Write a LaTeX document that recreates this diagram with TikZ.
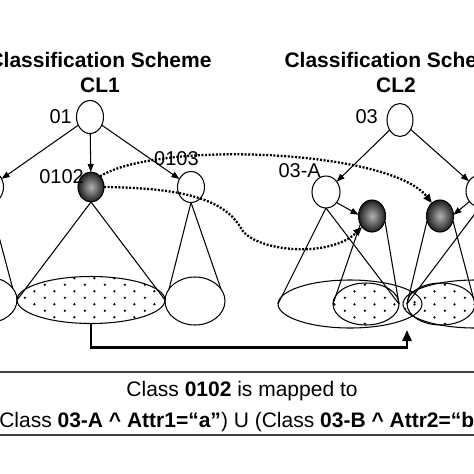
\documentclass[tikz,border=0pt]{standalone}
\usepackage{fontspec}
\setmainfont{Liberation Sans}
\usetikzlibrary{shapes.geometric,arrows.meta,patterns}
\pgfdeclarepatternformonly{mydots}{\pgfpoint{0pt}{0pt}}{\pgfpoint{20pt}{13.4pt}}{\pgfpoint{20pt}{13.4pt}}{%
  \pgfpathcircle{\pgfpoint{5pt}{3.35pt}}{1.3pt}%
  \pgfpathcircle{\pgfpoint{15pt}{10.05pt}}{1.3pt}%
  \pgfusepath{fill}}
\tikzset{
  cls/.style={ellipse, draw, line width=1.05pt, fill=white, inner sep=0pt, outer sep=0pt, minimum width=27pt, minimum height=32pt},
  darkcls/.style={ellipse, draw, line width=1.05pt, inner sep=0pt, outer sep=0pt, minimum width=27pt, minimum height=32pt, shading=radial, inner color=black!30, outer color=black!88},
  baseell/.style={ellipse, draw, line width=1.05pt, inner sep=0pt, outer sep=0pt},
  dotbase/.style={baseell, pattern=mydots},
  coneline/.style={line width=1.05pt},
  arr/.style={line width=1.05pt, -{Triangle[length=8pt,width=6pt]}},
  mapcurve/.style={line width=2.3pt, dash pattern=on 2pt off 1.6pt, -{Triangle[length=9pt,width=7pt]}},
  conn/.style={line width=2.5pt, -{Triangle[length=11pt,width=9pt]}},
  lbl/.style={inner sep=0pt, font=\fontsize{20}{22}\selectfont},
  ttl/.style={inner sep=0pt, font=\bfseries\fontsize{21}{24}\selectfont},
  captext/.style={inner sep=0pt, font=\fontsize{21}{24}\selectfont},
}
\begin{document}
\begin{tikzpicture}[x=1pt,y=-1pt]
\path[use as bounding box] (0,0) rectangle (474,474);
\clip (0,0) rectangle (474,474);
\fill[white] (0,0) rectangle (474,474);

% titles
\node[ttl, anchor=base] (t1a) at (100,67) {Classification Scheme};
\node[ttl, anchor=base] (t1b) at (100,92) {CL1};
\node[ttl, anchor=base] (t2a) at (396,67) {Classification Scheme};
\node[ttl, anchor=base] (t2b) at (396,92) {CL2};

% base ellipses
\node[baseell, minimum width=60pt, minimum height=46pt] (eL) at (-13,300) {};
\node[dotbase, minimum width=148pt, minimum height=47pt] (e0102) at (91,300) {};
\node[baseell, minimum width=60pt, minimum height=48pt] (e0103) at (195,301) {};
\node[baseell, minimum width=144pt, minimum height=48pt] (eA) at (350,304) {};
\node[baseell, minimum width=144pt, minimum height=48pt] (eD) at (475,304) {};
\begin{scope}
  \clip (350,304) ellipse [x radius=72, y radius=24];
  \fill[pattern=mydots] (475,304) ellipse [x radius=72, y radius=24];
\end{scope}
\node[dotbase, minimum width=66pt, minimum height=42pt] (eB) at (366,304) {};
\node[dotbase, minimum width=68pt, minimum height=42pt] (eC) at (441,304) {};

% class nodes
\node[cls, minimum height=33pt] (n01) at (90,117) {};
\node[cls] (nL) at (-10,187) {};
\node[darkcls, minimum width=26pt, minimum height=30pt] (n0102) at (91,187) {};
\node[cls, minimum height=31pt] (n0103) at (191,187) {};
\node[cls, minimum width=26pt, minimum height=33pt] (n03) at (400,120) {};
\node[cls, minimum width=28pt] (nA) at (326,192) {};
\node[cls, minimum width=28pt] (nB) at (480,191) {};
\node[darkcls] (nD1) at (372,216) {};
\node[darkcls] (nD2) at (440,216) {};

% labels
\node[lbl, anchor=base east] (l01) at (72,123) {01};
\node[lbl, anchor=base east] (l0102) at (84,183) {0102};
\node[lbl, anchor=base west] (l0103) at (154,165) {0103};
\node[lbl, anchor=base east] (l03) at (378,123) {03};
\node[lbl, anchor=base east] (l03A) at (321,177) {03-A};

% cones
\draw[coneline] (nL.south) -- (eL.25);
\draw[coneline] (nL.south) -- (eL.155);
\draw[coneline] (n0102.south) -- (e0102.west);
\draw[coneline] (n0102.south) -- (e0102.east);
\draw[coneline] (n0103.south) -- (e0103.155);
\draw[coneline] (n0103.south) -- (e0103.25);
\draw[coneline] (nA.south) -- (eA.west);
\draw[coneline] (nA.south) -- (eB.east);
\draw[coneline] (nD1.215) -- (eB.west);
\draw[coneline] (nD1.-20) -- (eB.east);
\draw[coneline] (nD2.200) -- (eC.west);
\draw[coneline] (nD2.-20) -- (eC.east);
\draw[coneline] (nB.south) -- (eC.west);
\draw[coneline] (nB.south) -- (eD.east);

% tree arrows
\draw[arr] (n01) -- (nL);
\draw[arr] (n01) -- (n0102);
\draw[arr] (n01) -- (n0103);
\draw[arr] (n03) -- (nA);
\draw[arr] (n03) -- (nB);
\draw[arr] (nA.-45) -- (nD1.175);
\draw[arr] (nB.225) -- (nD2.5);

% mapping curves
\draw[mapcurve] (n0102.50) .. controls (160,140) and (390,150) .. (nD2.122);
\draw[mapcurve] (n0102.east) .. controls (180,188) and (225,198) .. (242,230)
  .. controls (258,252) and (330,258) .. (nD1.228);

% connector from dotted region to target region
\coordinate (mapT) at (407,330);
\draw[conn] (e0102.south) -- ++(0,24) -| (mapT);

% caption box
\draw[line width=1.6pt, black!75] (-10,372) rectangle (484,435);
\node[captext, anchor=base] (c1) at (242,396) {Class \textbf{0102} is mapped to};
\node[captext, anchor=base] (c2) at (242,427) {(Class \textbf{03-A \textasciicircum{} Attr1=“a”}) U (Class \textbf{03-B \textasciicircum{} Attr2=“b”})};
\end{tikzpicture}
\end{document}
